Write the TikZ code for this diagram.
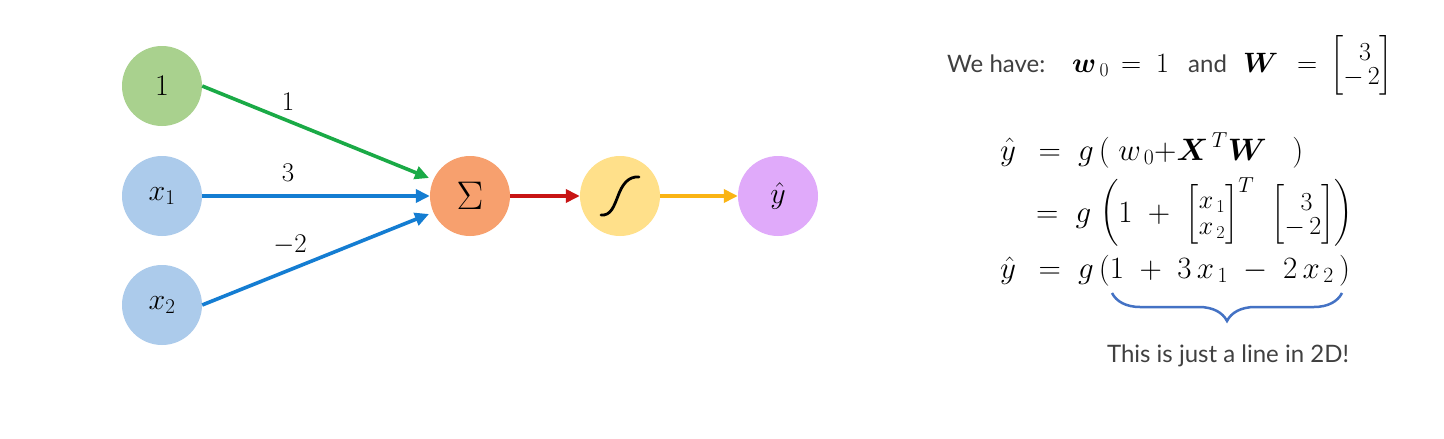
\RequirePackage{fix-cm}
\documentclass[tikz,border=0pt]{standalone}
\usepackage{amsmath}
\usepackage{fontspec}
\setmainfont{Lato}
\usetikzlibrary{arrows.meta,decorations.pathreplacing}
\definecolor{cgreen}{RGB}{169,209,142}
\definecolor{cblue}{RGB}{172,203,235}
\definecolor{corange}{RGB}{247,160,110}
\definecolor{cyellow}{RGB}{255,224,138}
\definecolor{cpurple}{RGB}{224,170,250}
\definecolor{agreen}{RGB}{26,170,70}
\definecolor{ablue}{RGB}{20,125,210}
\definecolor{ared}{RGB}{200,20,20}
\definecolor{aorange}{RGB}{250,180,20}
\definecolor{bracec}{RGB}{68,114,196}
\definecolor{txtgray}{RGB}{64,64,64}
% two-row column vector with entries at 26pt, bracketed at \Big size
\newcommand\colvec[2]{\Bigl[\vcenter{\offinterlineskip\halign{\hfil##\hfil\cr
  \vrule height 18pt depth 2pt width 0pt\fontsize{26}{26}\selectfont$#1$\cr
  \noalign{\vskip 4pt}
  \vrule height 18pt depth 2pt width 0pt\fontsize{26}{26}\selectfont$#2$\cr}}\Bigr]}
\begin{document}
\begin{tikzpicture}[x=1pt,y=-1pt,
  neuron/.style={circle,minimum size=80pt,inner sep=0pt,font=\fontsize{30}{34}\selectfont},
  conn/.style={-{Triangle[length=14pt,width=13pt]},line width=3.6pt},
  wlabel/.style={font=\fontsize{27}{30}\selectfont},
  eq/.style={anchor=base west,inner sep=0pt,font=\fontsize{31}{36}\selectfont},
  topm/.style={anchor=base west,inner sep=0pt,font=\fontsize{28}{32}\selectfont},
  plain/.style={anchor=base west,inner sep=0pt,text=txtgray,font=\fontsize{24}{28}\selectfont}]
\useasboundingbox[fill=white] (0,0) rectangle (1444,439);
% neurons
\node[neuron,fill=cgreen] (one) at (162,86) {$1$};
\node[neuron,fill=cblue] (x1) at (162,196) {$x_1$};
\node[neuron,fill=cblue] (x2) at (162,305) {$x_2$};
\node[neuron,fill=corange,font=\fontsize{40}{44}\selectfont] (sum) at (470,196) {$\Sigma$};
\node[neuron,fill=cyellow] (act) at (620,196) {};
\node[neuron,fill=cpurple] (yh) at (778,196) {$\hat{y}$};
% sigmoid glyph
\draw[line width=2.8pt,line cap=round] (601,215) .. controls (611,216) and (614,206) .. (618,196) .. controls (622,185) and (628,176) .. (639,177);
% connectors
\coordinate (t1) at (429,178);
\coordinate (t3) at (429,214);
\draw[conn,agreen] (one.east) -- (t1);
\draw[conn,ablue] (x1.east) -- (sum.west);
\draw[conn,ablue] (x2.east) -- (t3);
\draw[conn,ared] (sum.east) -- (act.west);
\draw[conn,aorange] (act.east) -- (yh.west);
% weights
\node[wlabel] (w1) at (288,102) {$1$};
\node[wlabel] (w2) at (288,173) {$3$};
\node[wlabel] (w3) at (290,245) {$-2$};
% top line
\node[plain] (have) at (947,72) {We have:};
\node[topm] (wz) at (1072,72) {$\boldsymbol{w}_{\,0}$};
\node[topm] (eqa) at (1121,72) {$=$};
\node[topm] (onev) at (1156,72) {$1$};
\node[plain] (andw) at (1188,72) {and};
\node[topm] (bw) at (1243,72) {$\boldsymbol{W}$};
\node[topm] (eqb) at (1297,72) {$=$};
\node[topm] (wvec) at (1330,72) {$\colvec{\;3}{-\,2}$};
% equations
\node[eq] (l1) at (1000,160) {$\hat{y}\;\,=\;g\,(\;w_{\,0}{+}\boldsymbol{X}^{\,T}\boldsymbol{W}\;\;\;)$};
\node[eq] (l2) at (1036,222) {$=\;g\;\scalebox{1}[1.12]{$\Bigl($}1\;+\;\colvec{x_{\,1}}{x_{\,2}}^{T}\;\;\colvec{\;3}{-\,2}\scalebox{1}[1.12]{$\Bigr)$}$};
\node[eq] (l3) at (1000,278) {$\hat{y}\;\,=\;g\,(1\;+\;3\,x_{\,1}\;-\;2\,x_{\,2}\,)$};
% brace and note
\coordinate (bl) at (1112,293);
\coordinate (br) at (1342,293);
\draw[bracec,line width=2.5pt,decorate,decoration={brace,mirror,amplitude=28pt,aspect=0.5}] (bl) -- (br);
\node[plain,anchor=center] (note) at (1228,356) {This is just a line in 2D!};
\end{tikzpicture}
\end{document}
